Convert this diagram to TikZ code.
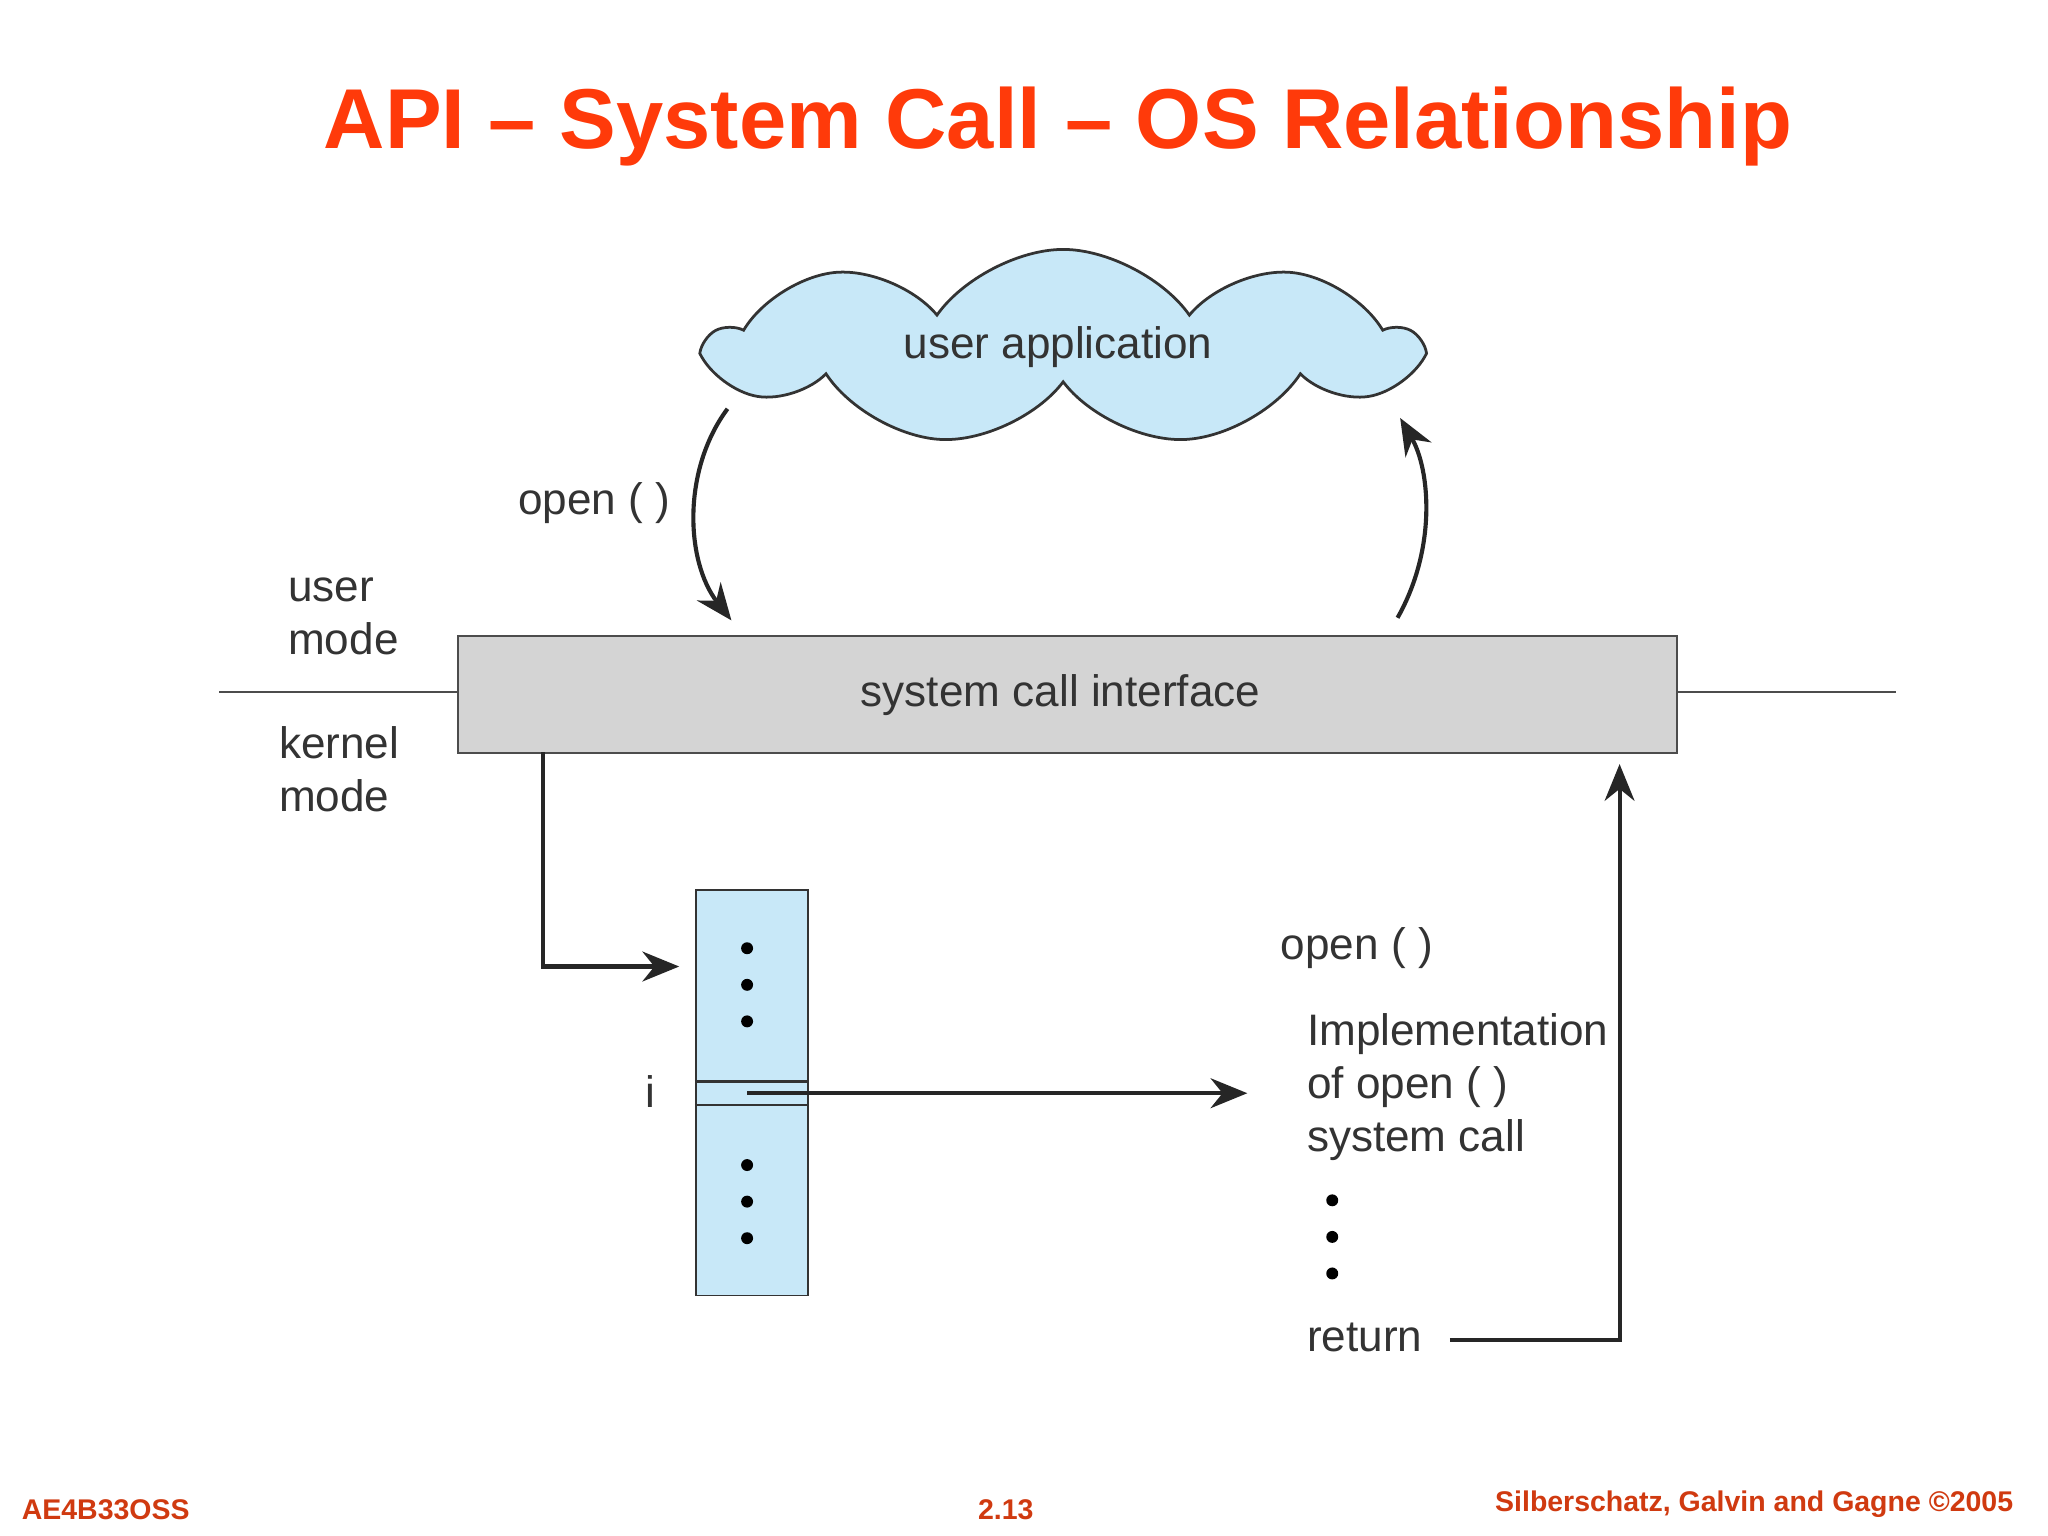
\documentclass[tikz,border=0pt]{standalone}
\usepackage{fontspec}
\setmainfont{Liberation Sans}
\usetikzlibrary{shapes.symbols,arrows.meta}
\definecolor{ttl}{HTML}{FF3A0A}
\definecolor{foot}{HTML}{D03A10}
\definecolor{lb}{HTML}{C8E8F8}
\definecolor{gr}{HTML}{D4D4D4}
\tikzset{
 lbl/.style={font=\fontsize{9.6}{11.5}\selectfont, text=black!80, inner sep=0pt},
 con/.style={line width=0.9pt, draw=black!85},
 arr/.style={con,-{Stealth[length=8pt,width=6.5pt]}},
 dot/.style={circle,fill=black,inner sep=0pt,minimum size=2.6pt},
 foottxt/.style={font=\bfseries\fontsize{6.2}{7.5}\selectfont, text=foot, inner sep=0pt}
}
\begin{document}
\begin{tikzpicture}[x=0.01cm,y=-0.01cm]
\useasboundingbox[fill=white] (0,0) rectangle (1568,1176);
\node[font=\bfseries\fontsize{18.5}{22}\selectfont, text=ttl] (title) at (810,97) {API – System Call – OS Relationship};
% cloud
\node[cloud, cloud puffs=9, cloud puff arc=110, aspect=3.4, draw=black!80, fill=lb, minimum width=5.4cm, minimum height=1.5cm, inner sep=0pt, line width=0.6pt] (cloud) at (814,266) {};
\node[lbl] (ua) at (810,266) {user application};
% SCI
\node[draw=black!70, fill=gr, minimum width=9.33cm, minimum height=0.9cm, anchor=north west, inner sep=0pt] (sci) at (350,486) {};
\node[lbl] (scit) at (812,532) {system call interface};
\coordinate (ml1) at (168,530); \coordinate (mr2) at (1452,530);
\draw[black!70, line width=0.5pt] (ml1) -- (sci.west |- ml1);
\draw[black!70, line width=0.5pt] (sci.east |- mr2) -- (mr2);
\node[lbl, align=left, anchor=west] (um) at (220,472) {user\\mode};
\node[lbl, align=left, anchor=west] (km) at (213,589) {kernel\\mode};
% curved arrows
\coordinate (a1) at (557,313); \coordinate (a2) at (560,475);
\draw[arr] (a1) .. controls (522,360) and (525,430) .. (a2);
\coordinate (b1) at (1070,473); \coordinate (b2) at (1072,320);
\draw[arr] (b1) .. controls (1100,420) and (1095,360) .. (b2);
\node[lbl] (open1) at (455,385) {open ( )};
% table
\node[draw=black!80, fill=lb, minimum width=0.86cm, minimum height=3.1cm, anchor=north west, inner sep=0pt] (tab) at (532,681) {};
\draw[black!80, line width=0.5pt] (532,828) -- (618,828) (532,846) -- (618,846);
\foreach \y in {726,754,782,892,920,948} \node[dot] at (572,\y) {};
\node[lbl] (i) at (498,836) {i};
\coordinate (c1) at (416,576); \coordinate (c2) at (520,740);
\draw[arr] (c1) |- (c2);
\coordinate (d1) at (572,837); \coordinate (d2) at (955,837);
\draw[arr] (d1) -- (d2);
% implementation
\node[lbl, anchor=west] (open2) at (980,726) {open ( )};
\node[lbl, anchor=north west, align=left, font=\fontsize{9.6}{11.6}\selectfont] (impl) at (1000,775) {Implementation\\of open ( )\\system call};
\foreach \y in {919,947,975} \node[dot] at (1020,\y) {};
\node[lbl, anchor=west] (ret) at (1000,1024) {return};
\coordinate (e1) at (1110,1026); \coordinate (e2) at (1240,585);
\draw[arr] (e1) -| (e2);
% footer
\node[foottxt, anchor=west] (f1) at (16,1156) {AE4B33OSS};
\node[foottxt] (f2) at (770,1156) {2.13};
\node[foottxt, anchor=east] (f3) at (1542,1152) {Silberschatz, Galvin and Gagne ©2005};
\end{tikzpicture}
\end{document}
